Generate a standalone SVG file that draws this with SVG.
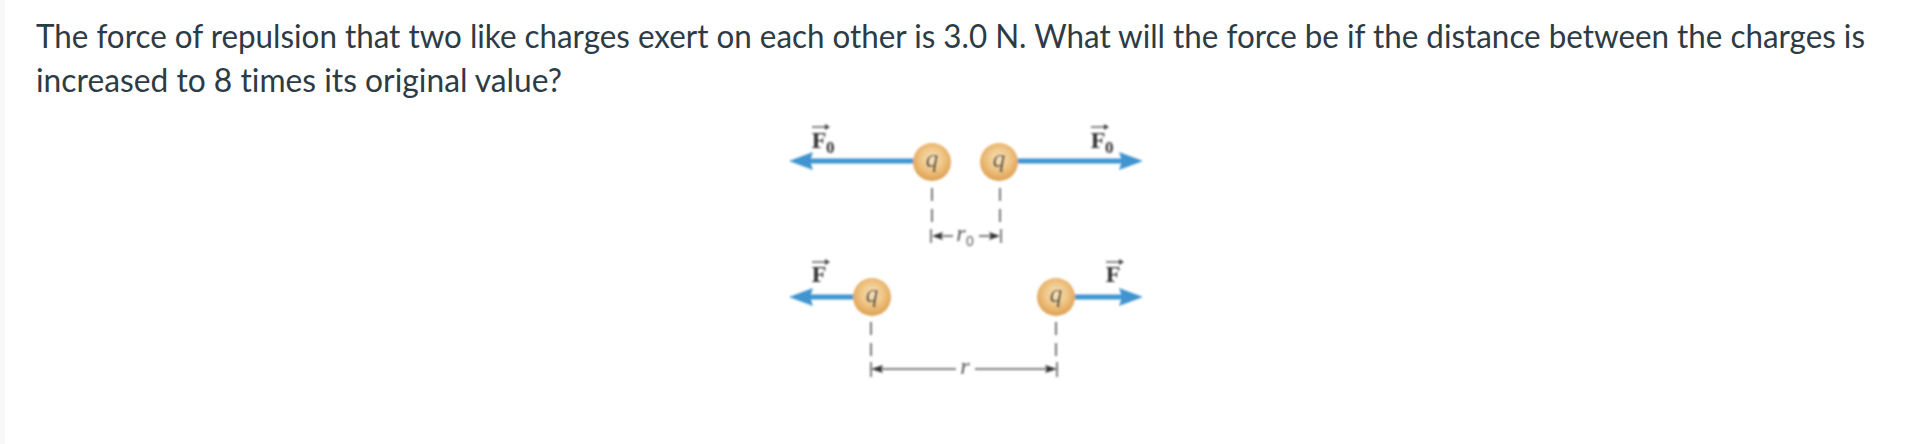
<svg xmlns="http://www.w3.org/2000/svg" width="1920" height="444" viewBox="0 0 1920 444">
<style>
.q{font-family:"Lato",sans-serif;font-size:32px;fill:#2d3b45;font-variant-ligatures:none}
.ball{fill:url(#ballG)}
.force{stroke:#3f94cf;stroke-width:5;fill:none}
.head{fill:#3f94cf}
.dash{stroke:#777;stroke-width:2;stroke-dasharray:13 8;fill:none}
.dim{stroke:#555;stroke-width:1.5;fill:none}
.tick{stroke:#555;stroke-width:1.5;fill:none}
.dh{fill:#333}
.ql{font-family:"Liberation Serif",serif;font-style:italic;font-size:25px;fill:#3a3a3a;text-anchor:middle}
.F{font-family:"Liberation Serif",serif;font-weight:bold;font-size:24px;fill:#333;text-anchor:middle}
.sub{font-family:"Liberation Serif",serif;font-weight:bold;font-size:17px;fill:#333}
.r{font-family:"Liberation Serif",serif;font-style:italic;font-size:24px;fill:#555;text-anchor:middle}
.r0{font-family:"Liberation Sans",sans-serif;font-size:14px;fill:#555}
.over{stroke:#444;stroke-width:1.3;fill:none}
.overh{fill:#444}
</style>
<defs>
<radialGradient id="ballG" cx="50%" cy="42%" r="55%">
<stop offset="0" stop-color="#f7e2bd"/>
<stop offset="0.55" stop-color="#efc585"/>
<stop offset="1" stop-color="#dfa355"/>
</radialGradient>
<filter id="soft" x="-5%" y="-5%" width="110%" height="110%"><feGaussianBlur stdDeviation="0.9"/></filter>
</defs>
<rect width="1920" height="444" fill="#fff"/>
<rect x="0" y="0" width="5" height="444" fill="#f8f8f8"/>
<g id="question">
<text class="q" x="36" y="48" textLength="1829" lengthAdjust="spacingAndGlyphs">The force of repulsion that two like charges exert on each other is 3.0 N. What will the force be if the distance between the charges is</text>
<text class="q" x="36" y="92" textLength="526" lengthAdjust="spacingAndGlyphs">increased to 8 times its original value?</text>
</g>
<g filter="url(#soft)">
<g id="connectors">
<path class="force" d="M806 161H915"/>
<path class="head" d="M789 161L813 152L810 161L813 170Z"/>
<path class="force" d="M1016 161H1126"/>
<path class="head" d="M1143 161L1119 152L1122 161L1119 170Z"/>
<path class="force" d="M806 297H856"/>
<path class="head" d="M789 297L813 288L810 297L813 306Z"/>
<path class="force" d="M1072 297H1126"/>
<path class="head" d="M1143 297L1119 288L1122 297L1119 306Z"/>
<path class="dash" d="M932 188V224"/>
<path class="dash" d="M1000 188V224"/>
<path class="tick" d="M931 229V243M1001 229V243"/>
<path class="dim" d="M936 236H953M979 236H996"/>
<path class="dh" d="M932 236L943 232L941 236L943 240Z"/>
<path class="dh" d="M1000 236L989 232L991 236L989 240Z"/>
<path class="dash" d="M871 322V358"/>
<path class="dash" d="M1056 322V358"/>
<path class="tick" d="M871 362V377M1057 362V377"/>
<path class="dim" d="M875 369H956M975 369H1053"/>
<path class="dh" d="M871 369L883 365L881 369L883 373Z"/>
<path class="dh" d="M1057 369L1045 365L1047 369L1045 373Z"/>
</g>
<g id="charge-top-left"><circle class="ball" cx="932" cy="162" r="19"/><text class="ql" x="932" y="167">q</text></g>
<g id="charge-top-right"><circle class="ball" cx="999" cy="162" r="19"/><text class="ql" x="999" y="167">q</text></g>
<g id="charge-bottom-left"><circle class="ball" cx="872" cy="297" r="19"/><text class="ql" x="872" y="302">q</text></g>
<g id="charge-bottom-right"><circle class="ball" cx="1056" cy="297" r="19"/><text class="ql" x="1056" y="302">q</text></g>
<g id="label-f0-left"><path class="over" d="M812 127H828"/><path class="overh" d="M830 127L825 124V130Z"/><text class="F" x="819" y="148">F</text><text class="sub" x="826" y="153">0</text></g>
<g id="label-f0-right"><path class="over" d="M1091 127H1107"/><path class="overh" d="M1109 127L1104 124V130Z"/><text class="F" x="1098" y="148">F</text><text class="sub" x="1105" y="153">0</text></g>
<g id="label-f-left"><path class="over" d="M812 262H828"/><path class="overh" d="M830 262L825 259V265Z"/><text class="F" x="819" y="282">F</text></g>
<g id="label-f-right"><path class="over" d="M1106 262H1122"/><path class="overh" d="M1124 262L1119 259V265Z"/><text class="F" x="1113" y="282">F</text></g>
<g id="label-r0"><text class="r" x="961" y="241">r</text><text class="r0" x="966" y="246">0</text></g>
<g id="label-r"><text class="r" x="965" y="374">r</text></g>
</g>
</svg>
